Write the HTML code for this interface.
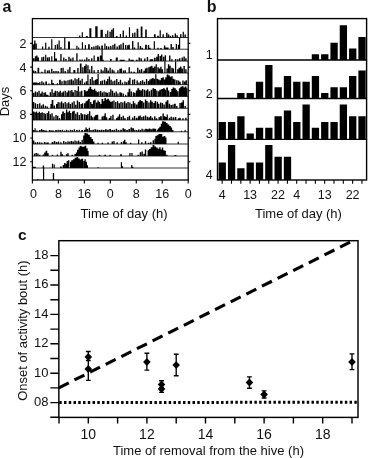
<!DOCTYPE html>
<html><head><meta charset="utf-8"><title>Figure</title>
<style>html,body{margin:0;padding:0;background:#fff}svg{display:block}text{font-family:"Liberation Sans",sans-serif;fill:#111}</style></head><body>
<svg width="368" height="458" viewBox="0 0 368 458">
<rect width="368" height="458" fill="#fff"/>
<g id="panel-a">
<text x="2.6" y="12.3" font-size="16" font-weight="bold">a</text>
<path d="M32.4,37.5H188.2M32.4,49.2H188.2M32.4,61.1H188.2M32.4,73.0H188.2M32.4,84.7H188.2M32.4,96.4H188.2M32.4,108.25H188.2M32.4,120.0H188.2M32.4,131.8H188.2M32.4,144.0H188.2M32.4,156.0H188.2M32.4,168.0H188.2" stroke="#000" stroke-width="0.8" fill="none"/>
<path d="M79.17,37.5V35.38H80.37V37.5ZM81.72,37.5V32.13H82.92V37.5ZM85.81,37.5V36.09H87.84V37.5ZM89.34,37.5V28.32H91.37V37.5ZM95.24,37.5V26.20H97.62V37.5ZM100.47,37.5V29.73H102.84V37.5ZM105.21,37.5V33.97H106.57V37.5ZM107.13,37.5V30.44H108.33V37.5ZM109.45,37.5V31.85H110.81V37.5ZM111.15,37.5V29.73H112.50V37.5ZM112.70,37.5V28.32H114.06V37.5ZM115.92,37.5V36.09H117.62V37.5ZM119.84,37.5V33.97H121.04V37.5ZM122.59,37.5V30.44H123.94V37.5ZM125.69,37.5V35.38H127.05V37.5ZM128.88,37.5V27.33H130.08V37.5ZM132.05,37.5V33.26H133.41V37.5ZM134.17,37.5V32.56H135.53V37.5ZM136.59,37.5V28.70H138.35V37.5ZM140.70,37.5V26.49H142.46V37.5ZM145.19,37.5V29.43H146.77V37.5ZM153.90,37.5V34.27H155.66V37.5ZM157.13,37.5V35.74H158.89V37.5ZM159.60,37.5V30.16H160.83V37.5ZM162.44,37.5V34.27H163.85V37.5ZM166.11,37.5V32.80H167.52V37.5ZM167.87,37.5V34.57H169.28V37.5ZM169.78,37.5V35.74H171.19V37.5ZM171.98,37.5V35.30H173.39V37.5ZM174.62,37.5V33.39H176.03V37.5ZM176.38,37.5V35.30H177.79V37.5ZM180.05,37.5V34.27H181.46V37.5ZM182.63,37.5V31.63H183.87V37.5ZM184.45,37.5V34.57H185.86V37.5Z" fill="#000"/>
<path d="M33.09,49.2V44.26H34.29V49.2ZM34.15,49.2V40.44H35.50V49.2ZM35.64,49.2V43.55H36.84V49.2ZM41.99,49.2V46.38H43.19V49.2ZM45.10,49.2V42.84H46.30V49.2ZM48.27,49.2V46.66H49.63V49.2ZM51.17,49.2V39.31H52.37V49.2ZM54.71,49.2V44.96H55.91V49.2ZM56.75,49.2V44.26H58.10V49.2ZM58.52,49.2V40.44H59.72V49.2ZM60.35,49.2V47.08H61.55V49.2ZM64.17,49.2V37.62H65.37V49.2ZM67.99,49.2V41.43H70.02V49.2ZM76.32,49.2V45.67H77.52V49.2ZM78.01,49.2V47.51H79.21V49.2ZM81.82,49.2V42.14H83.02V49.2ZM84.81,49.2V44.96H86.01V49.2ZM88.10,49.2V44.26H89.79V49.2ZM91.09,49.2V47.08H92.45V49.2ZM93.21,49.2V46.38H94.56V49.2ZM95.33,49.2V45.67H96.68V49.2ZM97.16,49.2V45.25H98.52V49.2ZM98.94,49.2V46.38H100.14V49.2ZM101.48,49.2V45.67H102.68V49.2ZM104.30,49.2V43.55H105.50V49.2ZM105.92,49.2V46.09H107.28V49.2ZM108.04,49.2V46.38H109.40V49.2ZM110.16,49.2V46.09H111.51V49.2ZM112.28,49.2V44.96H113.63V49.2ZM114.11,49.2V43.83H115.47V49.2ZM116.51,49.2V46.38H117.87V49.2ZM118.63,49.2V45.25H119.99V49.2ZM120.33,49.2V44.26H121.68V49.2ZM122.59,49.2V42.84H123.94V49.2ZM124.99,49.2V44.96H126.34V49.2ZM127.11,49.2V45.25H128.46V49.2ZM128.52,49.2V44.68H129.88V49.2ZM132.05,49.2V41.01H133.41V49.2ZM133.89,49.2V47.51H135.24V49.2ZM137.58,49.2V42.16H138.82V49.2ZM139.70,49.2V45.97H141.11V49.2ZM141.46,49.2V47.73H142.87V49.2ZM145.10,49.2V44.80H146.86V49.2ZM147.77,49.2V45.09H149.18V49.2ZM149.24,49.2V47.73H150.64V49.2ZM153.74,49.2V41.13H154.94V49.2ZM157.31,49.2V47.73H158.71V49.2ZM160.24,49.2V48.03H161.65V49.2ZM163.91,49.2V45.53H165.32V49.2ZM165.05,49.2V47.44H168.58V49.2ZM170.51,49.2V44.06H171.92V49.2ZM172.27,49.2V47.00H173.68V49.2ZM175.74,49.2V44.06H176.97V49.2ZM177.85,49.2V44.80H179.26V49.2ZM178.98,49.2V37.75H180.18V49.2Z" fill="#000"/>
<path d="M32.85,61.1V58.28H34.54V61.1ZM34.85,61.1V56.16H36.21V61.1ZM36.27,61.1V55.45H37.62V61.1ZM37.68,61.1V57.57H39.03V61.1ZM41.21,61.1V57.15H42.56V61.1ZM42.90,61.1V56.86H44.26V61.1ZM45.10,61.1V54.74H46.30V61.1ZM46.86,61.1V57.57H48.21V61.1ZM48.55,61.1V57.15H49.91V61.1ZM51.17,61.1V56.16H52.37V61.1ZM54.00,61.1V51.92H55.20V61.1ZM54.99,61.1V58.56H57.03V61.1ZM60.28,61.1V54.04H61.63V61.1ZM63.10,61.1V57.57H64.46V61.1ZM65.22,61.1V58.98H66.58V61.1ZM68.33,61.1V56.86H69.68V61.1ZM70.16,61.1V58.56H71.52V61.1ZM72.28,61.1V57.57H73.64V61.1ZM76.24,61.1V53.33H77.59V61.1ZM79.34,61.1V59.41H80.70V61.1ZM81.46,61.1V59.41H82.82V61.1ZM84.03,61.1V59.41H85.38V61.1ZM86.15,61.1V57.57H87.50V61.1ZM88.27,61.1V58.98H89.62V61.1ZM91.09,61.1V58.28H92.45V61.1ZM93.57,61.1V55.45H94.77V61.1ZM97.11,61.1V56.86H99.14V61.1ZM99.82,61.1V55.45H101.51V61.1ZM101.48,61.1V45.56H102.68V61.1ZM102.39,61.1V59.69H103.75V61.1ZM109.99,61.1V58.98H111.68V61.1ZM115.75,61.1V57.57H117.79V61.1ZM119.59,61.1V59.69H124.68V61.1ZM128.52,61.1V58.56H129.88V61.1ZM130.33,61.1V59.69H133.72V61.1ZM135.85,61.1V59.63H137.61V61.1ZM138.52,61.1V57.43H139.93V61.1ZM140.43,61.1V58.17H141.84V61.1ZM144.10,61.1V58.46H145.51V61.1ZM146.74,61.1V56.99H148.15V61.1ZM149.65,61.1V59.34H153.17V61.1ZM153.90,61.1V57.87H155.66V61.1ZM156.13,61.1V56.70H157.54V61.1ZM157.60,61.1V54.06H159.01V61.1ZM159.51,61.1V55.96H160.92V61.1ZM160.97,61.1V54.50H162.38V61.1ZM162.88,61.1V56.70H164.29V61.1ZM164.64,61.1V55.23H166.05V61.1ZM169.04,61.1V55.52H170.45V61.1ZM171.25,61.1V59.34H172.65V61.1ZM174.91,61.1V58.90H176.32V61.1ZM177.12,61.1V59.34H178.52V61.1ZM179.02,61.1V58.17H180.43V61.1ZM181.52,61.1V57.43H182.93V61.1ZM183.42,61.1V56.40H184.83V61.1ZM185.19,61.1V58.17H186.59V61.1Z" fill="#000"/>
<path d="M33.02,73.0V70.46H34.37V73.0ZM34.85,73.0V70.88H36.21V73.0ZM37.51,73.0V67.63H39.20V73.0ZM41.21,73.0V71.87H42.56V73.0ZM44.32,73.0V69.47H45.67V73.0ZM46.86,73.0V70.46H48.21V73.0ZM48.55,73.0V70.18H49.91V73.0ZM51.10,73.0V68.76H52.45V73.0ZM53.21,73.0V70.88H54.57V73.0ZM55.33,73.0V70.88H56.69V73.0ZM57.45,73.0V70.88H58.81V73.0ZM60.56,73.0V68.06H61.92V73.0ZM62.40,73.0V67.63H63.75V73.0ZM64.51,73.0V70.88H65.87V73.0ZM67.34,73.0V69.47H68.69V73.0ZM69.18,73.0V67.07H70.53V73.0ZM73.36,73.0V69.89H75.39V73.0ZM77.23,73.0V68.06H78.58V73.0ZM79.88,73.0V63.40H81.58V73.0ZM82.17,73.0V67.35H83.53V73.0ZM84.03,73.0V65.94H85.38V73.0ZM85.44,73.0V64.24H86.80V73.0ZM87.28,73.0V65.23H88.63V73.0ZM89.05,73.0V69.47H90.25V73.0ZM91.09,73.0V65.94H92.45V73.0ZM93.49,73.0V70.18H94.85V73.0ZM97.45,73.0V69.89H98.80V73.0ZM100.55,73.0V69.47H101.91V73.0ZM102.39,73.0V70.46H103.75V73.0ZM104.23,73.0V67.35H105.58V73.0ZM105.92,73.0V68.06H107.28V73.0ZM107.62,73.0V70.46H108.97V73.0ZM109.45,73.0V67.63H110.81V73.0ZM111.57,73.0V69.47H112.93V73.0ZM113.27,73.0V70.46H114.62V73.0ZM117.22,73.0V70.18H118.58V73.0ZM119.34,73.0V68.76H120.69V73.0ZM120.75,73.0V68.48H122.11V73.0ZM122.87,73.0V70.46H124.23V73.0ZM124.56,73.0V70.18H125.92V73.0ZM128.52,73.0V67.35H129.88V73.0ZM130.64,73.0V71.59H131.99V73.0ZM133.29,73.0V71.87H134.99V73.0ZM137.06,73.0V67.86H138.47V73.0ZM138.96,73.0V69.77H140.37V73.0ZM140.87,73.0V68.89H142.28V73.0ZM143.37,73.0V70.80H144.77V73.0ZM144.83,73.0V68.60H146.24V73.0ZM146.30,73.0V67.86H147.71V73.0ZM148.21,73.0V67.13H149.62V73.0ZM149.68,73.0V66.40H151.08V73.0ZM151.14,73.0V65.66H152.55V73.0ZM152.61,73.0V67.86H154.02V73.0ZM154.08,73.0V66.40H155.49V73.0ZM155.63,73.0V64.20H156.87V73.0ZM157.31,73.0V67.13H158.71V73.0ZM158.77,73.0V68.60H160.18V73.0ZM160.24,73.0V66.84H161.65V73.0ZM161.71,73.0V69.33H163.12V73.0ZM164.31,73.0V61.26H165.51V73.0ZM166.40,73.0V68.60H167.81V73.0ZM167.87,73.0V64.20H169.28V73.0ZM169.34,73.0V65.66H170.75V73.0ZM171.25,73.0V67.86H172.65V73.0ZM172.71,73.0V68.60H174.12V73.0ZM175.02,73.0V61.55H176.22V73.0ZM177.12,73.0V69.33H178.52V73.0ZM178.58,73.0V67.86H179.99V73.0ZM180.05,73.0V66.40H181.46V73.0ZM181.52,73.0V68.60H182.93V73.0ZM183.42,73.0V65.96H184.83V73.0ZM185.19,73.0V69.33H186.59V73.0Z" fill="#000"/>
<path d="M32.40,84.7V82.58H37.48V84.7ZM37.68,84.7V83.01H39.03V84.7ZM39.09,84.7V82.16H40.45V84.7ZM41.21,84.7V81.17H42.56V84.7ZM42.90,84.7V82.58H44.26V84.7ZM45.28,84.7V81.59H46.97V84.7ZM48.27,84.7V83.57H49.63V84.7ZM51.10,84.7V79.76H52.45V84.7ZM52.51,84.7V83.01H53.86V84.7ZM56.75,84.7V83.29H58.10V84.7ZM59.12,84.7V79.76H60.81V84.7ZM61.27,84.7V81.17H62.62V84.7ZM63.53,84.7V80.46H64.88V84.7ZM65.22,84.7V80.75H66.58V84.7ZM67.34,84.7V80.18H68.69V84.7ZM69.18,84.7V79.76H70.53V84.7ZM70.87,84.7V79.33H72.23V84.7ZM72.56,84.7V80.46H73.92V84.7ZM74.40,84.7V78.34H75.76V84.7ZM76.24,84.7V79.33H77.59V84.7ZM77.93,84.7V77.64H79.29V84.7ZM79.63,84.7V80.46H80.98V84.7ZM81.46,84.7V78.77H82.82V84.7ZM84.03,84.7V82.58H85.38V84.7ZM85.86,84.7V81.17H87.22V84.7ZM87.35,84.7V74.53H88.55V84.7ZM89.68,84.7V79.05H91.03V84.7ZM91.51,84.7V76.93H92.87V84.7ZM93.21,84.7V80.46H94.56V84.7ZM94.90,84.7V79.76H96.26V84.7ZM96.32,84.7V79.05H97.67V84.7ZM97.52,84.7V74.11H98.72V84.7ZM99.99,84.7V81.17H101.34V84.7ZM101.68,84.7V80.46H103.04V84.7ZM103.80,84.7V79.76H105.16V84.7ZM105.64,84.7V81.17H106.99V84.7ZM107.05,84.7V79.05H108.41V84.7ZM108.75,84.7V76.51H110.10V84.7ZM110.44,84.7V79.76H111.80V84.7ZM112.28,84.7V81.17H113.63V84.7ZM114.11,84.7V80.46H115.47V84.7ZM116.09,84.7V79.05H117.45V84.7ZM117.93,84.7V81.88H119.28V84.7ZM119.76,84.7V79.76H121.12V84.7ZM121.74,84.7V82.58H123.10V84.7ZM124.28,84.7V81.59H125.64V84.7ZM125.98,84.7V82.16H127.33V84.7ZM127.81,84.7V80.46H129.17V84.7ZM129.23,84.7V77.64H130.58V84.7ZM132.05,84.7V79.76H133.41V84.7ZM133.89,84.7V79.33H135.24V84.7ZM136.47,84.7V80.59H137.88V84.7ZM138.23,84.7V82.50H139.64V84.7ZM139.99,84.7V81.03H141.40V84.7ZM141.90,84.7V80.30H143.31V84.7ZM143.81,84.7V81.77H145.21V84.7ZM145.86,84.7V79.12H147.27V84.7ZM147.77,84.7V81.03H149.18V84.7ZM149.24,84.7V79.56H150.64V84.7ZM150.70,84.7V78.83H152.11V84.7ZM152.17,84.7V78.10H153.58V84.7ZM153.64,84.7V78.83H155.05V84.7ZM155.19,84.7V74.14H156.43V84.7ZM156.57,84.7V78.83H157.98V84.7ZM158.04,84.7V79.56H159.45V84.7ZM159.51,84.7V80.30H160.92V84.7ZM160.80,84.7V78.10H162.56V84.7ZM162.44,84.7V77.36H163.85V84.7ZM163.91,84.7V79.56H165.32V84.7ZM165.20,84.7V77.36H166.96V84.7ZM166.67,84.7V74.43H168.43V84.7ZM168.13,84.7V75.60H169.90V84.7ZM169.78,84.7V76.63H171.19V84.7ZM171.25,84.7V76.19H172.65V84.7ZM172.71,84.7V78.83H174.12V84.7ZM174.18,84.7V79.56H175.59V84.7ZM176.09,84.7V80.30H177.50V84.7ZM177.85,84.7V80.59H179.26V84.7ZM179.32,84.7V81.77H180.72V84.7ZM182.25,84.7V80.59H183.66V84.7ZM184.01,84.7V81.47H185.42V84.7ZM185.48,84.7V80.30H186.89V84.7Z" fill="#000"/>
<path d="M32.85,96.4V92.87H34.54V96.4ZM34.85,96.4V91.46H36.21V96.4ZM36.69,96.4V92.16H38.05V96.4ZM38.38,96.4V90.75H39.74V96.4ZM40.08,96.4V93.58H41.44V96.4ZM41.49,96.4V91.46H42.85V96.4ZM43.33,96.4V92.87H44.68V96.4ZM44.74,96.4V92.16H46.10V96.4ZM45.14,96.4V94.71H48.53V96.4ZM49.68,96.4V92.16H51.04V96.4ZM51.38,96.4V89.34H52.73V96.4ZM53.21,96.4V92.87H54.57V96.4ZM54.63,96.4V90.75H55.98V96.4ZM56.46,96.4V91.03H57.82V96.4ZM58.16,96.4V92.16H59.51V96.4ZM59.57,96.4V90.75H60.93V96.4ZM61.27,96.4V92.87H62.62V96.4ZM62.68,96.4V91.46H64.03V96.4ZM64.51,96.4V90.75H65.87V96.4ZM66.35,96.4V92.16H67.71V96.4ZM67.76,96.4V90.47H69.12V96.4ZM69.46,96.4V90.75H70.81V96.4ZM71.15,96.4V90.04H72.51V96.4ZM72.56,96.4V92.16H73.92V96.4ZM74.40,96.4V90.04H75.76V96.4ZM76.24,96.4V90.75H77.59V96.4ZM77.73,96.4V86.23H78.93V96.4ZM79.34,96.4V91.46H80.70V96.4ZM81.04,96.4V90.75H82.40V96.4ZM83.86,96.4V90.04H85.55V96.4ZM85.27,96.4V91.46H86.97V96.4ZM86.68,96.4V90.75H88.38V96.4ZM88.10,96.4V88.63H89.79V96.4ZM89.51,96.4V86.80H91.20V96.4ZM90.92,96.4V89.34H92.62V96.4ZM92.50,96.4V90.04H93.86V96.4ZM93.92,96.4V88.63H95.27V96.4ZM95.33,96.4V90.75H96.68V96.4ZM96.74,96.4V92.16H98.10V96.4ZM98.15,96.4V91.46H99.51V96.4ZM99.99,96.4V90.75H101.34V96.4ZM101.68,96.4V92.45H103.04V96.4ZM103.38,96.4V91.46H104.73V96.4ZM105.21,96.4V92.16H106.57V96.4ZM106.63,96.4V92.87H107.98V96.4ZM108.46,96.4V92.16H109.82V96.4ZM110.16,96.4V89.34H111.51V96.4ZM111.85,96.4V90.75H113.21V96.4ZM113.69,96.4V92.87H115.05V96.4ZM115.53,96.4V91.46H116.88V96.4ZM117.22,96.4V93.58H118.58V96.4ZM119.34,96.4V92.16H120.69V96.4ZM120.75,96.4V92.87H122.11V96.4ZM122.59,96.4V93.58H123.94V96.4ZM124.99,96.4V94.71H126.34V96.4ZM127.39,96.4V92.16H128.75V96.4ZM128.63,96.4V88.63H130.33V96.4ZM130.64,96.4V91.46H131.99V96.4ZM132.76,96.4V92.16H134.11V96.4ZM134.17,96.4V92.87H135.53V96.4ZM135.85,96.4V90.53H137.61V96.4ZM137.32,96.4V88.33H139.08V96.4ZM138.96,96.4V89.80H140.37V96.4ZM140.43,96.4V90.53H141.84V96.4ZM141.90,96.4V89.06H143.31V96.4ZM143.81,96.4V89.80H145.21V96.4ZM145.57,96.4V90.53H146.98V96.4ZM147.03,96.4V89.36H148.44V96.4ZM148.80,96.4V91.26H150.20V96.4ZM150.70,96.4V89.80H152.11V96.4ZM152.43,96.4V88.33H154.20V96.4ZM154.20,96.4V89.06H155.96V96.4ZM156.13,96.4V90.53H157.54V96.4ZM158.04,96.4V91.26H159.45V96.4ZM159.33,96.4V89.80H161.09V96.4ZM161.24,96.4V89.06H163.00V96.4ZM163.00,96.4V88.33H164.76V96.4ZM164.64,96.4V89.80H166.05V96.4ZM166.23,96.4V87.60H167.99V96.4ZM167.87,96.4V90.53H169.28V96.4ZM169.78,96.4V92.00H171.19V96.4ZM171.25,96.4V89.06H172.65V96.4ZM172.54,96.4V87.60H174.30V96.4ZM174.00,96.4V88.33H175.77V96.4ZM175.65,96.4V89.80H177.06V96.4ZM177.12,96.4V91.26H178.52V96.4ZM178.85,96.4V88.33H180.61V96.4ZM180.31,96.4V86.86H182.07V96.4ZM181.78,96.4V86.13H183.54V96.4ZM183.25,96.4V87.60H185.01V96.4ZM184.72,96.4V86.42H186.48V96.4ZM186.07,96.4V88.33H187.47V96.4Z" fill="#000"/>
<path d="M33.02,108.25V101.89H34.37V108.25ZM34.85,108.25V103.31H36.21V108.25ZM36.97,108.25V104.01H38.33V108.25ZM39.09,108.25V103.31H40.45V108.25ZM40.93,108.25V105.43H42.28V108.25ZM42.62,108.25V104.30H43.98V108.25ZM44.74,108.25V105.71H46.10V108.25ZM46.58,108.25V106.56H47.93V108.25ZM50.39,108.25V104.01H51.75V108.25ZM51.63,108.25V100.06H53.33V108.25ZM53.64,108.25V105.43H54.99V108.25ZM56.04,108.25V104.01H57.40V108.25ZM57.45,108.25V101.89H58.81V108.25ZM59.29,108.25V102.60H60.64V108.25ZM60.98,108.25V101.47H62.34V108.25ZM62.68,108.25V103.31H64.03V108.25ZM64.51,108.25V101.89H65.87V108.25ZM66.35,108.25V103.31H67.71V108.25ZM68.05,108.25V102.32H69.40V108.25ZM69.74,108.25V104.01H71.10V108.25ZM71.58,108.25V102.60H72.93V108.25ZM73.41,108.25V101.19H74.77V108.25ZM75.11,108.25V104.72H76.46V108.25ZM76.80,108.25V100.48H78.16V108.25ZM78.64,108.25V101.89H79.99V108.25ZM80.47,108.25V104.01H81.83V108.25ZM81.89,108.25V103.31H83.24V108.25ZM84.03,108.25V103.31H85.38V108.25ZM85.44,108.25V101.19H86.80V108.25ZM86.85,108.25V100.48H88.21V108.25ZM88.10,108.25V99.07H89.79V108.25ZM90.10,108.25V101.89H91.46V108.25ZM91.51,108.25V104.01H92.87V108.25ZM92.93,108.25V100.48H94.28V108.25ZM94.34,108.25V99.78H95.69V108.25ZM96.03,108.25V102.60H97.39V108.25ZM97.45,108.25V100.48H98.80V108.25ZM98.86,108.25V101.89H100.21V108.25ZM100.27,108.25V104.01H101.63V108.25ZM101.51,108.25V99.07H103.21V108.25ZM102.93,108.25V101.19H104.62V108.25ZM104.34,108.25V98.36H106.03V108.25ZM105.75,108.25V99.78H107.45V108.25ZM107.16,108.25V98.65H108.86V108.25ZM108.58,108.25V100.48H110.27V108.25ZM110.16,108.25V101.89H111.51V108.25ZM111.57,108.25V101.19H112.93V108.25ZM113.27,108.25V100.48H114.62V108.25ZM115.10,108.25V101.89H116.46V108.25ZM116.94,108.25V101.19H118.29V108.25ZM118.63,108.25V103.31H119.99V108.25ZM120.33,108.25V101.89H121.68V108.25ZM122.16,108.25V102.60H123.52V108.25ZM124.00,108.25V101.19H125.36V108.25ZM125.69,108.25V103.31H127.05V108.25ZM127.39,108.25V101.89H128.75V108.25ZM129.23,108.25V102.60H130.58V108.25ZM131.06,108.25V104.01H132.42V108.25ZM132.76,108.25V101.19H134.11V108.25ZM134.17,108.25V103.31H135.53V108.25ZM135.85,108.25V104.58H137.61V108.25ZM137.76,108.25V101.65H139.52V108.25ZM139.23,108.25V100.18H140.99V108.25ZM140.99,108.25V100.91H142.75V108.25ZM142.93,108.25V102.38H144.33V108.25ZM144.83,108.25V99.45H146.24V108.25ZM146.30,108.25V100.91H147.71V108.25ZM148.21,108.25V102.38H149.62V108.25ZM149.97,108.25V100.18H151.38V108.25ZM151.44,108.25V101.65H152.85V108.25ZM153.20,108.25V103.11H154.61V108.25ZM154.66,108.25V100.91H156.07V108.25ZM156.57,108.25V101.65H157.98V108.25ZM158.04,108.25V103.85H159.45V108.25ZM159.95,108.25V102.38H161.36V108.25ZM161.71,108.25V103.11H163.12V108.25ZM163.47,108.25V104.58H164.88V108.25ZM165.38,108.25V101.65H166.79V108.25ZM166.67,108.25V100.18H168.43V108.25ZM168.75,108.25V103.85H170.16V108.25ZM170.51,108.25V105.02H171.92V108.25ZM172.27,108.25V104.58H173.68V108.25ZM174.00,108.25V103.85H175.77V108.25ZM176.09,108.25V106.05H177.50V108.25ZM179.32,108.25V103.11H180.72V108.25ZM180.90,108.25V102.38H182.66V108.25ZM182.54,108.25V100.18H183.95V108.25ZM184.45,108.25V106.05H185.86V108.25Z" fill="#000"/>
<path d="M33.02,120.0V111.53H34.37V120.0ZM34.51,120.0V112.23H35.71V120.0ZM35.84,120.0V111.53H37.20V120.0ZM37.33,120.0V112.94H38.53V120.0ZM38.67,120.0V111.81H40.02V120.0ZM40.16,120.0V112.94H41.36V120.0ZM41.49,120.0V112.23H42.85V120.0ZM43.33,120.0V112.94H44.68V120.0ZM44.82,120.0V113.64H46.02V120.0ZM46.58,120.0V112.94H47.93V120.0ZM47.99,120.0V111.24H49.34V120.0ZM49.68,120.0V114.35H51.04V120.0ZM51.38,120.0V113.22H52.73V120.0ZM53.21,120.0V116.47H54.57V120.0ZM55.33,120.0V115.06H56.69V120.0ZM57.03,120.0V115.76H58.38V120.0ZM58.86,120.0V117.88H60.22V120.0ZM60.98,120.0V114.35H62.34V120.0ZM62.23,120.0V111.53H63.92V120.0ZM64.09,120.0V112.94H65.45V120.0ZM65.93,120.0V109.41H67.28V120.0ZM67.34,120.0V112.23H68.69V120.0ZM68.75,120.0V110.82H70.11V120.0ZM70.16,120.0V112.94H71.52V120.0ZM72.00,120.0V111.53H73.36V120.0ZM73.41,120.0V110.82H74.77V120.0ZM75.11,120.0V113.64H76.46V120.0ZM76.80,120.0V112.23H78.16V120.0ZM78.64,120.0V115.06H79.99V120.0ZM80.47,120.0V112.94H81.83V120.0ZM81.89,120.0V114.35H83.24V120.0ZM83.86,120.0V114.35H85.55V120.0ZM85.86,120.0V115.06H87.22V120.0ZM87.28,120.0V113.64H88.63V120.0ZM88.97,120.0V111.24H90.33V120.0ZM90.67,120.0V115.76H92.02V120.0ZM92.08,120.0V117.18H93.44V120.0ZM93.92,120.0V116.47H95.27V120.0ZM95.16,120.0V115.06H96.85V120.0ZM96.57,120.0V114.63H98.27V120.0ZM101.51,120.0V116.47H103.21V120.0ZM103.38,120.0V115.76H104.73V120.0ZM104.51,120.0V113.22H105.86V120.0ZM105.92,120.0V117.18H107.28V120.0ZM108.75,120.0V117.88H110.10V120.0ZM110.16,120.0V116.05H111.51V120.0ZM112.28,120.0V114.63H113.63V120.0ZM116.09,120.0V117.88H117.45V120.0ZM117.50,120.0V116.47H118.86V120.0ZM118.92,120.0V114.35H120.27V120.0ZM120.75,120.0V116.89H122.11V120.0ZM122.59,120.0V115.76H123.94V120.0ZM124.28,120.0V117.88H125.64V120.0ZM127.11,120.0V116.89H128.46V120.0ZM128.80,120.0V115.76H130.16V120.0ZM132.05,120.0V117.46H133.41V120.0ZM133.89,120.0V116.05H135.24V120.0ZM135.85,120.0V117.80H137.61V120.0ZM137.94,120.0V116.33H139.35V120.0ZM139.40,120.0V115.60H140.81V120.0ZM141.17,120.0V117.07H142.57V120.0ZM142.93,120.0V116.33H144.33V120.0ZM144.83,120.0V115.60H146.24V120.0ZM146.74,120.0V116.77H148.15V120.0ZM148.50,120.0V117.36H149.91V120.0ZM149.97,120.0V115.89H151.38V120.0ZM151.73,120.0V117.80H153.14V120.0ZM154.08,120.0V116.33H155.49V120.0ZM155.84,120.0V118.24H157.25V120.0ZM158.48,120.0V117.07H159.89V120.0ZM160.06,120.0V116.33H161.83V120.0ZM162.44,120.0V113.40H163.85V120.0ZM163.73,120.0V116.33H165.49V120.0ZM165.38,120.0V117.07H166.79V120.0ZM166.64,120.0V114.42H167.87V120.0ZM168.75,120.0V117.80H170.16V120.0ZM170.51,120.0V116.77H171.92V120.0ZM172.54,120.0V117.36H174.30V120.0ZM174.91,120.0V117.07H176.32V120.0ZM177.85,120.0V118.24H179.26V120.0ZM179.32,120.0V117.80H180.72V120.0ZM182.25,120.0V118.24H183.66V120.0ZM185.19,120.0V117.80H186.59V120.0Z" fill="#000"/>
<path d="M33.02,131.8V130.11H34.37V131.8ZM34.51,131.8V128.27H35.71V131.8ZM36.10,131.8V130.39H37.79V131.8ZM38.92,131.8V130.11H40.62V131.8ZM40.93,131.8V128.98H42.28V131.8ZM42.45,131.8V130.11H44.15V131.8ZM43.72,131.8V130.39H47.11V131.8ZM48.81,131.8V130.11H50.50V131.8ZM50.79,131.8V130.39H54.18V131.8ZM55.16,131.8V130.11H56.86V131.8ZM57.45,131.8V129.68H58.81V131.8ZM59.40,131.8V130.11H61.10V131.8ZM61.69,131.8V129.68H63.05V131.8ZM63.64,131.8V130.39H65.33V131.8ZM65.93,131.8V129.68H67.28V131.8ZM67.76,131.8V130.39H69.12V131.8ZM69.74,131.8V129.68H71.10V131.8ZM71.58,131.8V130.11H72.93V131.8ZM73.69,131.8V129.26H75.05V131.8ZM76.07,131.8V130.11H77.76V131.8ZM78.64,131.8V129.68H79.99V131.8ZM81.29,131.8V130.11H82.99V131.8ZM84.03,131.8V129.68H85.38V131.8ZM85.44,131.8V127.56H86.80V131.8ZM86.85,131.8V128.98H88.21V131.8ZM88.69,131.8V127.85H90.05V131.8ZM90.38,131.8V130.11H91.74V131.8ZM92.33,131.8V129.68H94.03V131.8ZM94.45,131.8V129.26H96.15V131.8ZM96.57,131.8V129.68H98.27V131.8ZM98.69,131.8V130.11H100.38V131.8ZM100.81,131.8V129.68H102.50V131.8ZM102.93,131.8V130.11H104.62V131.8ZM105.05,131.8V129.26H106.74V131.8ZM107.16,131.8V129.68H108.86V131.8ZM109.28,131.8V128.98H110.98V131.8ZM111.40,131.8V130.11H113.10V131.8ZM113.52,131.8V129.68H115.21V131.8ZM115.81,131.8V128.69H117.16V131.8ZM117.76,131.8V130.11H119.45V131.8ZM120.16,131.8V129.68H121.85V131.8ZM122.42,131.8V128.27H124.11V131.8ZM124.11,131.8V129.26H125.81V131.8ZM126.23,131.8V130.11H127.93V131.8ZM128.35,131.8V128.98H130.05V131.8ZM130.47,131.8V127.56H132.16V131.8ZM132.31,131.8V128.27H134.00V131.8ZM134.17,131.8V129.68H135.53V131.8ZM136.03,131.8V130.04H137.44V131.8ZM137.94,131.8V129.60H139.35V131.8ZM139.70,131.8V130.04H141.11V131.8ZM141.46,131.8V128.87H142.87V131.8ZM143.37,131.8V129.60H144.77V131.8ZM145.10,131.8V128.87H146.86V131.8ZM146.86,131.8V129.16H148.62V131.8ZM148.62,131.8V128.57H150.38V131.8ZM150.53,131.8V129.16H152.29V131.8ZM152.43,131.8V128.57H154.20V131.8ZM154.20,131.8V128.87H155.96V131.8ZM156.57,131.8V129.60H157.98V131.8ZM158.04,131.8V128.13H159.45V131.8ZM159.33,131.8V126.66H161.09V131.8ZM160.80,131.8V123.73H162.56V131.8ZM162.09,131.8V121.24H164.20V131.8ZM163.85,131.8V121.82H165.96V131.8ZM165.46,131.8V123.00H167.58V131.8ZM167.23,131.8V124.46H169.34V131.8ZM168.69,131.8V125.93H170.81V131.8ZM170.34,131.8V127.40H172.10V131.8ZM171.80,131.8V130.04H173.56V131.8ZM180.78,131.8V130.63H182.19V131.8ZM184.45,131.8V130.33H185.86V131.8Z" fill="#000"/>
<path d="M33.02,144.0V140.47H34.37V144.0ZM34.85,144.0V142.31H36.21V144.0ZM36.97,144.0V141.88H38.33V144.0ZM39.09,144.0V142.31H40.45V144.0ZM41.21,144.0V142.59H42.56V144.0ZM43.86,144.0V141.88H45.56V144.0ZM46.27,144.0V142.59H48.81V144.0ZM51.63,144.0V141.88H53.33V144.0ZM53.75,144.0V141.18H55.45V144.0ZM56.04,144.0V141.88H57.40V144.0ZM57.88,144.0V141.46H59.23V144.0ZM60.28,144.0V142.31H61.63V144.0ZM63.10,144.0V140.89H64.46V144.0ZM65.22,144.0V141.88H66.58V144.0ZM67.34,144.0V141.18H68.69V144.0ZM69.18,144.0V141.46H70.53V144.0ZM70.87,144.0V140.89H72.23V144.0ZM72.56,144.0V141.46H73.92V144.0ZM74.40,144.0V140.47H75.76V144.0ZM76.24,144.0V141.18H77.59V144.0ZM77.93,144.0V140.47H79.29V144.0ZM79.63,144.0V141.88H80.98V144.0ZM81.46,144.0V139.76H82.82V144.0ZM83.15,144.0V135.53H84.85V144.0ZM84.40,144.0V132.98H86.43V144.0ZM86.09,144.0V133.41H88.12V144.0ZM87.79,144.0V134.82H89.82V144.0ZM89.48,144.0V136.94H91.51V144.0ZM91.34,144.0V139.06H93.04V144.0ZM92.76,144.0V141.46H94.45V144.0ZM97.45,144.0V142.87H98.80V144.0ZM101.68,144.0V142.87H103.04V144.0ZM107.33,144.0V142.59H108.69V144.0ZM111.57,144.0V141.46H112.93V144.0ZM113.27,144.0V140.89H114.62V144.0ZM116.51,144.0V142.31H117.87V144.0ZM120.75,144.0V141.88H122.11V144.0ZM122.87,144.0V141.18H124.23V144.0ZM124.00,144.0V139.76H125.36V144.0ZM125.41,144.0V142.31H126.77V144.0ZM129.93,144.0V142.87H131.29V144.0ZM138.02,144.0V139.60H139.26V144.0ZM141.17,144.0V142.24H142.57V144.0ZM144.83,144.0V141.36H146.24V144.0ZM147.77,144.0V142.83H149.18V144.0ZM149.79,144.0V142.24H151.55V144.0ZM152.61,144.0V140.33H154.02V144.0ZM154.37,144.0V138.86H155.78V144.0ZM155.37,144.0V135.93H157.13V144.0ZM156.66,144.0V135.20H158.77V144.0ZM158.42,144.0V134.02H160.53V144.0ZM160.18,144.0V134.02H162.29V144.0ZM162.12,144.0V136.66H163.88V144.0ZM163.59,144.0V135.93H165.35V144.0ZM165.08,144.0V137.40H166.49V144.0ZM177.66,144.0V141.80H178.86V144.0Z" fill="#000"/>
<path d="M33.86,156.0V153.46H35.22V156.0ZM35.56,156.0V152.89H36.92V156.0ZM37.25,156.0V153.46H38.61V156.0ZM39.09,156.0V154.87H40.45V156.0ZM42.62,156.0V154.59H43.98V156.0ZM44.15,156.0V152.47H45.84V156.0ZM45.56,156.0V150.63H47.25V156.0ZM46.97,156.0V153.18H48.67V156.0ZM51.80,156.0V154.87H53.16V156.0ZM56.75,156.0V154.59H58.10V156.0ZM60.28,156.0V151.76H61.63V156.0ZM61.69,156.0V154.31H63.05V156.0ZM65.93,156.0V154.31H67.28V156.0ZM67.34,156.0V153.18H68.69V156.0ZM71.58,156.0V154.87H72.93V156.0ZM74.40,156.0V153.88H75.76V156.0ZM75.81,156.0V152.47H77.17V156.0ZM77.06,156.0V149.64H78.75V156.0ZM78.47,156.0V147.53H80.16V156.0ZM79.71,156.0V146.11H81.75V156.0ZM81.41,156.0V146.82H83.44V156.0ZM83.15,156.0V146.82H84.85V156.0ZM84.56,156.0V145.83H86.26V156.0ZM85.98,156.0V148.23H87.67V156.0ZM87.28,156.0V151.06H88.63V156.0ZM98.69,156.0V154.87H100.38V156.0ZM104.34,156.0V154.87H106.03V156.0ZM109.45,156.0V154.87H110.81V156.0ZM120.16,156.0V154.31H121.85V156.0ZM129.30,156.0V152.89H130.50V156.0ZM131.42,156.0V152.89H132.62V156.0ZM137.50,156.0V154.83H138.91V156.0ZM139.70,156.0V152.33H141.11V156.0ZM141.46,156.0V151.60H142.87V156.0ZM143.37,156.0V153.80H144.77V156.0ZM144.83,156.0V149.40H146.24V156.0ZM147.59,156.0V150.13H149.35V156.0ZM148.88,156.0V148.96H151.00V156.0ZM150.64,156.0V147.20H152.76V156.0ZM152.58,156.0V144.99H154.34V156.0ZM153.87,156.0V146.46H155.99V156.0ZM155.63,156.0V147.49H157.75V156.0ZM157.57,156.0V148.66H159.33V156.0ZM159.21,156.0V147.20H160.62V156.0ZM160.21,156.0V149.40H161.97V156.0ZM161.85,156.0V147.49H163.26V156.0ZM162.85,156.0V150.13H164.61V156.0ZM164.50,156.0V150.86H165.90V156.0ZM166.11,156.0V154.83H167.52V156.0ZM174.27,156.0V155.12H176.38V156.0Z" fill="#000"/>
<path d="M32.42,168.0V166.87H35.81V168.0ZM42.70,168.0V165.46H43.90V168.0ZM51.88,168.0V163.76H53.08V168.0ZM53.58,168.0V164.47H54.78V168.0ZM60.11,168.0V166.59H61.80V168.0ZM62.68,168.0V164.89H64.03V168.0ZM64.09,168.0V163.06H65.45V168.0ZM65.50,168.0V163.76H66.86V168.0ZM66.63,168.0V160.94H67.99V168.0ZM68.05,168.0V160.23H69.40V168.0ZM69.99,168.0V161.64H71.69V168.0ZM71.24,168.0V160.23H73.27V168.0ZM72.93,168.0V159.24H74.97V168.0ZM74.63,168.0V157.83H76.66V168.0ZM76.49,168.0V156.98H78.19V168.0ZM77.73,168.0V158.40H79.77V168.0ZM79.43,168.0V159.53H81.46V168.0ZM81.12,168.0V158.82H83.16V168.0ZM83.32,168.0V160.94H84.68V168.0ZM84.45,168.0V159.24H85.81V168.0ZM85.58,168.0V161.64H86.94V168.0ZM86.79,168.0V165.18H87.99V168.0ZM97.45,168.0V167.15H98.80V168.0ZM120.83,168.0V162.35H122.03V168.0ZM121.74,168.0V166.31H123.10V168.0ZM131.14,168.0V164.89H132.34V168.0ZM132.13,168.0V166.87H133.33V168.0Z" fill="#000"/>
<path d="M36.97,180.0V179.29H38.33V180.0ZM42.98,180.0V166.58H44.18V180.0ZM52.79,180.0V172.94H54.15V180.0Z" fill="#000"/>
<rect x="32.4" y="18.6" width="155.79999999999998" height="161.4" fill="none" stroke="#000" stroke-width="1.3"/>
<path d="M32.40,180.0V183.6M58.37,180.0V183.6M84.33,180.0V183.6M110.30,180.0V183.6M136.27,180.0V183.6M162.23,180.0V183.6M188.20,180.0V183.6M30.2,43.4H32.4M188.2,43.4H190.39999999999998M30.2,67.1H32.4M188.2,67.1H190.39999999999998M30.2,90.8H32.4M188.2,90.8H190.39999999999998M30.2,114.4H32.4M188.2,114.4H190.39999999999998M30.2,138.0H32.4M188.2,138.0H190.39999999999998M30.2,161.8H32.4M188.2,161.8H190.39999999999998" stroke="#000" stroke-width="1.1" fill="none"/>
<text x="33.60" y="197.6" font-size="12.5" text-anchor="middle">0</text>
<text x="58.37" y="197.6" font-size="12.5" text-anchor="middle">8</text>
<text x="84.33" y="197.6" font-size="12.5" text-anchor="middle">16</text>
<text x="110.30" y="197.6" font-size="12.5" text-anchor="middle">0</text>
<text x="136.27" y="197.6" font-size="12.5" text-anchor="middle">8</text>
<text x="162.23" y="197.6" font-size="12.5" text-anchor="middle">16</text>
<text x="188.20" y="197.6" font-size="12.5" text-anchor="middle">0</text>
<text x="26.5" y="47.8" font-size="12.5" text-anchor="end">2</text>
<text x="26.5" y="71.5" font-size="12.5" text-anchor="end">4</text>
<text x="26.5" y="95.2" font-size="12.5" text-anchor="end">6</text>
<text x="26.5" y="118.8" font-size="12.5" text-anchor="end">8</text>
<text x="26.5" y="142.4" font-size="12.5" text-anchor="end">10</text>
<text x="26.5" y="166.2" font-size="12.5" text-anchor="end">12</text>
<text transform="translate(9.3,116.3) rotate(-90)" font-size="13">Days</text>
<text x="80.6" y="217.8" font-size="13">Time of day (h)</text>
</g>
<g id="panel-b">
<text x="206.8" y="12.3" font-size="16" font-weight="bold">b</text>
<path d="M311.79,60.0V54.22h7.3V60.0ZM321.11,60.0V54.22h7.3V60.0ZM330.43,60.0V42.66h7.3V60.0ZM339.74,60.0V25.32h7.3V60.0ZM349.06,60.0V48.44h7.3V60.0ZM358.38,60.0V36.88h7.3V60.0ZM237.24,98.5V92.90h7.3V98.5ZM246.56,98.5V92.90h7.3V98.5ZM255.88,98.5V81.70h7.3V98.5ZM265.19,98.5V64.90h7.3V98.5ZM274.51,98.5V87.30h7.3V98.5ZM283.83,98.5V76.10h7.3V98.5ZM293.15,98.5V81.70h7.3V98.5ZM302.47,98.5V81.70h7.3V98.5ZM311.79,98.5V76.10h7.3V98.5ZM321.11,98.5V92.90h7.3V98.5ZM330.43,98.5V87.30h7.3V98.5ZM339.74,98.5V87.30h7.3V98.5ZM349.06,98.5V76.10h7.3V98.5ZM358.38,98.5V70.50h7.3V98.5ZM218.60,139.4V122.00h7.3V139.4ZM227.92,139.4V122.00h7.3V139.4ZM237.24,139.4V116.20h7.3V139.4ZM246.56,139.4V133.60h7.3V139.4ZM255.88,139.4V127.80h7.3V139.4ZM265.19,139.4V127.80h7.3V139.4ZM274.51,139.4V116.20h7.3V139.4ZM283.83,139.4V110.40h7.3V139.4ZM293.15,139.4V122.00h7.3V139.4ZM302.47,139.4V104.60h7.3V139.4ZM311.79,139.4V127.80h7.3V139.4ZM321.11,139.4V122.00h7.3V139.4ZM330.43,139.4V122.00h7.3V139.4ZM339.74,139.4V104.60h7.3V139.4ZM349.06,139.4V116.20h7.3V139.4ZM358.38,139.4V116.20h7.3V139.4ZM218.60,180.0V162.54h7.3V180.0ZM227.92,180.0V145.08h7.3V180.0ZM237.24,180.0V168.36h7.3V180.0ZM246.56,180.0V162.54h7.3V180.0ZM255.88,180.0V162.54h7.3V180.0ZM265.19,180.0V145.08h7.3V180.0ZM274.51,180.0V156.72h7.3V180.0ZM283.83,180.0V156.72h7.3V180.0Z" fill="#000"/>
<path d="M217.5,60.0H366.6M217.5,98.5H366.6M217.5,139.4H366.6" stroke="#000" stroke-width="1.3" fill="none"/>
<rect x="217.5" y="18.6" width="149.10000000000002" height="161.4" fill="none" stroke="#000" stroke-width="1.4"/>
<path d="M222.16,180.0V183.8M231.48,180.0V183.8M240.80,180.0V183.8M250.12,180.0V183.8M259.43,180.0V183.8M268.75,180.0V183.8M278.07,180.0V183.8M287.39,180.0V183.8M296.71,180.0V183.8M306.03,180.0V183.8M315.35,180.0V183.8M324.67,180.0V183.8M333.98,180.0V183.8M343.30,180.0V183.8M352.62,180.0V183.8M361.94,180.0V183.8" stroke="#000" stroke-width="1.1" fill="none"/>
<text x="222.16" y="198.8" font-size="12.5" text-anchor="middle">4</text>
<text x="250.12" y="198.8" font-size="12.5" text-anchor="middle">13</text>
<text x="278.07" y="198.8" font-size="12.5" text-anchor="middle">22</text>
<text x="296.71" y="198.8" font-size="12.5" text-anchor="middle">4</text>
<text x="324.67" y="198.8" font-size="12.5" text-anchor="middle">13</text>
<text x="352.62" y="198.8" font-size="12.5" text-anchor="middle">22</text>
<text x="212.7" y="58.5" font-size="12.5" text-anchor="end">1</text>
<text x="212.7" y="97.5" font-size="12.5" text-anchor="end">2</text>
<text x="212.7" y="138.2" font-size="12.5" text-anchor="end">3</text>
<text x="212.7" y="178.8" font-size="12.5" text-anchor="end">4</text>
<text x="255" y="218" font-size="13">Time of day (h)</text>
</g>
<g id="panel-c">
<text x="18" y="240" font-size="15.5" font-weight="bold">c</text>
<rect x="58.85" y="240.7" width="299.15" height="176.7" fill="none" stroke="#000" stroke-width="1.45"/>
<path d="M50.35,417.30H58.85M50.35,402.60H58.85M50.35,387.90H58.85M50.35,373.20H58.85M50.35,358.50H58.85M50.35,343.80H58.85M50.35,329.10H58.85M50.35,314.40H58.85M50.35,299.70H58.85M50.35,285.00H58.85M50.35,270.30H58.85M50.35,255.60H58.85M59.00,417.4V423.59999999999997M88.30,417.4V423.59999999999997M117.60,417.4V423.59999999999997M146.90,417.4V423.59999999999997M176.20,417.4V423.59999999999997M205.50,417.4V423.59999999999997M234.80,417.4V423.59999999999997M264.10,417.4V423.59999999999997M293.40,417.4V423.59999999999997M322.70,417.4V423.59999999999997M352.00,417.4V423.59999999999997" stroke="#000" stroke-width="1.4" fill="none"/>
<text x="48.5" y="405.9" font-size="13" text-anchor="end">08</text>
<text x="48.5" y="376.5" font-size="13" text-anchor="end">10</text>
<text x="48.5" y="347.1" font-size="13" text-anchor="end">12</text>
<text x="48.5" y="317.7" font-size="13" text-anchor="end">14</text>
<text x="48.5" y="288.3" font-size="13" text-anchor="end">16</text>
<text x="48.5" y="258.9" font-size="13" text-anchor="end">18</text>
<text x="88.30" y="439.2" font-size="14" text-anchor="middle">10</text>
<text x="146.90" y="439.2" font-size="14" text-anchor="middle">12</text>
<text x="205.50" y="439.2" font-size="14" text-anchor="middle">14</text>
<text x="264.10" y="439.2" font-size="14" text-anchor="middle">16</text>
<text x="322.70" y="439.2" font-size="14" text-anchor="middle">18</text>
<text transform="translate(26.9,400.7) rotate(-90)" font-size="12.95">Onset of activity bout (h)</text>
<text x="113" y="455" font-size="13">Time of removal from the hive (h)</text>
<line x1="58.85" y1="387.8" x2="351.6" y2="241.4" stroke="#000" stroke-width="3.1" stroke-dasharray="11.1 6.37"/>
<line x1="59.24" y1="402.6" x2="357.5" y2="402.2" stroke="#000" stroke-width="3" stroke-dasharray="2.45 2.31"/>
<path d="M88.30,351.5V360.5M85.90,351.5h4.8M85.90,360.5h4.8M88.30,357.6V380.4M85.90,357.6h4.8M85.90,380.4h4.8M146.90,353.2V370.1M144.50,353.2h4.8M144.50,370.1h4.8M161.55,380.7V388.0M159.15,380.7h4.8M159.15,388.0h4.8M161.55,385.5V392.3M159.15,385.5h4.8M159.15,392.3h4.8M176.20,354.2V375.7M173.80,354.2h4.8M173.80,375.7h4.8M249.45,376.8V388.2M247.05,376.8h4.8M247.05,388.2h4.8M264.10,390.8V398.0M261.70,390.8h4.8M261.70,398.0h4.8M352.00,353.8V369.6M349.60,353.8h4.8M349.60,369.6h4.8" stroke="#000" stroke-width="1.35" fill="none"/>
<path d="M88.30,353.0l3.8,3.9l-3.8,3.9l-3.8,-3.9zM88.30,365.1l3.8,3.9l-3.8,3.9l-3.8,-3.9zM146.90,358.1l3.8,3.9l-3.8,3.9l-3.8,-3.9zM161.55,380.5l3.8,3.9l-3.8,3.9l-3.8,-3.9zM161.55,385.1l3.8,3.9l-3.8,3.9l-3.8,-3.9zM176.20,361.20000000000005l3.8,3.9l-3.8,3.9l-3.8,-3.9zM249.45,378.6l3.8,3.9l-3.8,3.9l-3.8,-3.9zM264.10,390.6l3.8,3.9l-3.8,3.9l-3.8,-3.9zM352.00,358.1l3.8,3.9l-3.8,3.9l-3.8,-3.9z" fill="#000"/>
</g>
</svg></body></html>
